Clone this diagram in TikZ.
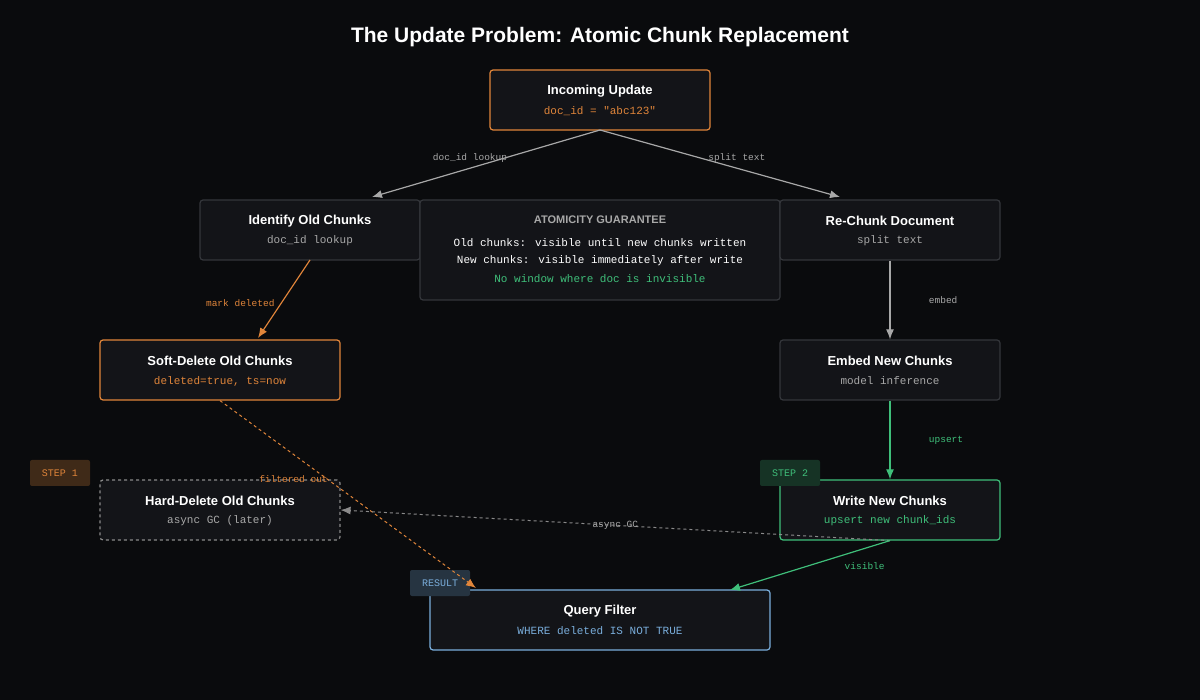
\documentclass[tikz,border=0pt]{standalone}
\usepackage{fontspec}
\setmainfont{Liberation Sans}
\newfontfamily\mono{Liberation Mono}
\usetikzlibrary{arrows.meta}
\definecolor{bg}{HTML}{0A0B0D}
\definecolor{nfill}{HTML}{131418}
\definecolor{nborder}{HTML}{34363B}
\definecolor{cor}{HTML}{E0853A}
\definecolor{cgr}{HTML}{3FBF7A}
\definecolor{cbl}{HTML}{7AAEDC}
\definecolor{cgy}{HTML}{A8A8A8}
\definecolor{dgy}{HTML}{8A8A8A}
\tikzset{
 box/.style={draw=nborder,fill=nfill,rounded corners=3pt,line width=1.2pt,minimum width=#1,minimum height=60pt,inner sep=0pt},
 box/.default=220pt,
 ttl/.style={font=\bfseries\fontsize{13}{15}\selectfont,text=white},
 sub/.style={font=\mono\fontsize{11}{13}\selectfont,text=cgy},
 lbl/.style={font=\mono\fontsize{9.5}{11}\selectfont,text=cgy},
 arr/.style={-{Latex[length=10pt,width=8pt]},line width=1.2pt},
 badge/.style={rounded corners=2pt,minimum width=60pt,minimum height=26pt,inner sep=0pt,font=\mono\fontsize{10}{12}\selectfont}
}
\begin{document}
\begin{tikzpicture}[x=1pt,y=-1pt]
\fill[bg] (0,0) rectangle (1200,700);
\useasboundingbox (0,0) rectangle (1200,700);
\node[font=\bfseries\fontsize{21}{25}\selectfont,text=white] (title) at (600,37) {The Update Problem: Atomic Chunk Replacement};

\node[box,draw=cor] (inc) at (600,100) {};
\node[ttl] at (600,91) {Incoming Update};
\node[sub,text=cor] at (600,111) {doc\_id = "abc123"};

\node[box] (ident) at (310,230) {};
\node[ttl] at (310,221) {Identify Old Chunks};
\node[sub] at (310,241) {doc\_id lookup};

\node[box=360pt,minimum height=100pt] (atom) at (600,250) {};
\node[font=\bfseries\fontsize{11}{13}\selectfont,text=cgy] at (600,220) {ATOMICITY GUARANTEE};
\node[sub,text=white] at (600,243) {Old chunks: visible until new chunks written};
\node[sub,text=white] at (600,261) {New chunks: visible immediately after write};
\node[sub,text=cgr] at (600,279) {No window where doc is invisible};

\node[box] (rechunk) at (890,230) {};
\node[ttl] at (890,221) {Re-Chunk Document};
\node[sub] at (890,241) {split text};

\node[box=240pt,draw=cor] (soft) at (220,370) {};
\node[ttl] at (220,361) {Soft-Delete Old Chunks};
\node[sub,text=cor] at (220,381) {deleted=true, ts=now};

\node[box] (embed) at (890,370) {};
\node[ttl] at (890,361) {Embed New Chunks};
\node[sub] at (890,381) {model inference};

\node[box=240pt,draw=dgy,dashed] (hard) at (220,510) {};
\node[ttl] at (220,501) {Hard-Delete Old Chunks};
\node[sub] at (220,521) {async GC (later)};

\node[box,draw=cgr] (write) at (890,510) {};
\node[ttl] at (890,501) {Write New Chunks};
\node[sub,text=cgr] at (890,521) {upsert new chunk\_ids};

\node[box=340pt,draw=cbl] (query) at (600,620) {};
\node[ttl] at (600,611) {Query Filter};
\node[sub,text=cbl] at (600,631) {WHERE deleted IS NOT TRUE};

\node[badge,fill=cor!25!bg,text=cor] (s1) at (60,473) {STEP 1};
\node[badge,fill=cgr!22!bg,text=cgr] (s2) at (790,473) {STEP 2};
\node[badge,fill=cbl!25!bg,text=cbl] (res) at (440,583) {RESULT};

\coordinate (incb) at (600,130);
\coordinate (ident-t) at (372,197);
\coordinate (re-t) at (840,197);
\coordinate (ident-b) at (310,260);
\coordinate (soft-t) at (258,338);
\coordinate (q-l) at (476,588);
\coordinate (q-r) at (730,590);
\draw[arr,cgy] (incb) -- (ident-t) node[lbl,pos=0.57,above=2pt] {doc\_id lookup};
\draw[arr,cgy] (incb) -- (re-t) node[lbl,pos=0.57,above=2pt] {split text};
\draw[arr,cor] (ident-b) -- (soft-t) node[lbl,text=cor,pos=0.55,left=3pt] {mark deleted};
\draw[arr,cgy] (rechunk.south) -- (embed.north) node[lbl,midway,right=35pt] {embed};
\draw[arr,cgr] (embed.south) -- (write.north) node[lbl,text=cgr,midway,right=35pt] {upsert};
\draw[arr,cor,dashed,line width=1pt] (soft.south) -- (q-l) node[lbl,text=cor,pos=0.42,left=-4pt] {filtered out};
\draw[arr,dgy,dashed,line width=1pt] (write.south) -- (hard.east) node[lbl,midway] {async GC};
\draw[arr,cgr] (write.south) -- (q-r) node[lbl,text=cgr,pos=0.32,below right=2pt] {visible};
\end{tikzpicture}
\end{document}
